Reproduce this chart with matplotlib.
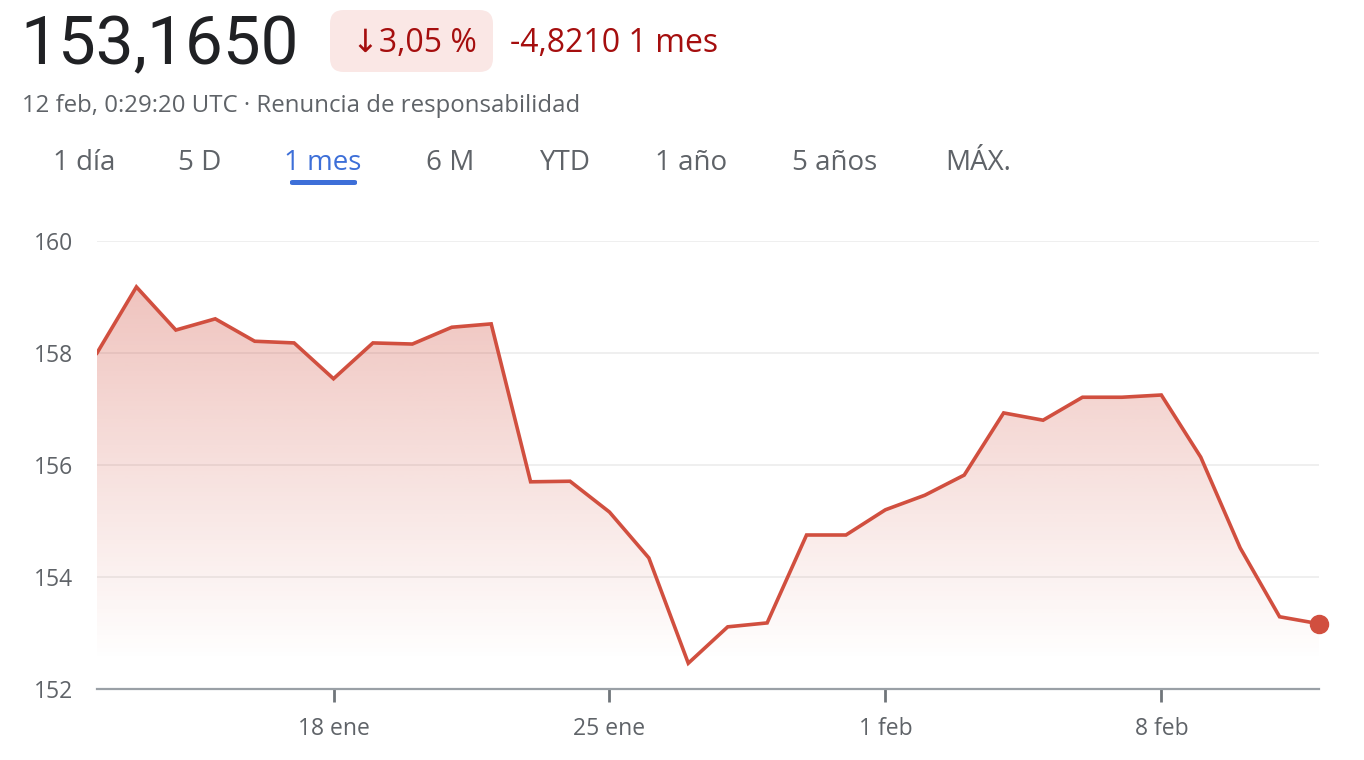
import matplotlib
matplotlib.use("Agg")
import matplotlib.pyplot as plt
import numpy as np
from matplotlib.patches import FancyBboxPatch, PathPatch

plt.rcParams['font.family'] = ['Open Sans', 'DejaVu Sans']

# ---- data ----
day_index = list(range(32))  # 12 ene .. 12 feb
prices = [158.00, 159.18, 158.41, 158.61, 158.21, 158.18, 157.54, 158.18,
          158.16, 158.46, 158.52, 155.70, 155.71, 155.16, 154.34, 152.46,
          153.11, 153.18, 154.75, 154.75, 155.20, 155.46, 155.82, 156.93,
          156.80, 157.21, 157.21, 157.25, 156.14, 154.52, 153.29, 153.165]
xtick_pos = [6, 13, 20, 27]
xtick_labels = ["18 ene", "25 ene", "1 feb", "8 feb"]
ytick_vals = [152, 154, 156, 158, 160]
ytick_labels = ["152", "154", "156", "158", "160"]
tabs = ["1 día", "5 D", "1 mes", "6 M", "YTD", "1 año", "5 años", "MÁX."]
tab_x = [84, 200, 323, 450, 565, 691, 835, 978]
price_text = "153,1650"
pct_text = "\u21933,05 %"
change_text = "-4,8210 1 mes"
sub_text = "12 feb, 0:29:20 UTC \u00b7 Renuncia de responsabilidad"

RED = "#d14f3f"
DARKRED = "#a50e0e"
GRAY = "#5f6368"
W, H = 1364, 760

fig = plt.figure(figsize=(W / 100, H / 100), dpi=100)

def fx(px):
    return px / W

def fy(py):
    return 1 - py / H

# header
fig.text(fx(20), fy(46), price_text, fontsize=48.5, color="#202124", va="center", ha="left",
         family=['Roboto', 'DejaVu Sans'])
badge = FancyBboxPatch((fx(330), fy(72)), fx(493) - fx(330), fy(10) - fy(72),
                       boxstyle="round,pad=0,rounding_size=0.01", transform=fig.transFigure,
                       facecolor="#fae7e5", edgecolor="none", mutation_aspect=W / H)
fig.patches.append(badge)
fig.text(fx(414), fy(43), pct_text, fontsize=23, color=DARKRED, va="center", ha="center",
         fontweight="medium")
fig.text(fx(510), fy(43), change_text, fontsize=23, color=DARKRED, va="center", ha="left",
         fontweight="medium")
fig.text(fx(22), fy(106), sub_text, fontsize=17.3, color=GRAY, va="center", ha="left")

for t, x in zip(tabs, tab_x):
    c = "#3d6fd8" if t == "1 mes" else GRAY
    fig.text(fx(x), fy(163), t, fontsize=20, color=c, va="center", ha="center")
ul = FancyBboxPatch((fx(290), fy(185)), fx(357) - fx(290), fy(180) - fy(185),
                    boxstyle="round,pad=0,rounding_size=0.002", transform=fig.transFigure,
                    facecolor="#3d6fd8", edgecolor="none")
fig.patches.append(ul)

# chart
ax = fig.add_axes([fx(97), fy(689), fx(1319) - fx(97), fy(241) - fy(689)])
ax.set_xlim(0, 31)
ax.set_ylim(152, 160)
for s in ["top", "right", "left"]:
    ax.spines[s].set_visible(False)
ax.spines["bottom"].set_color("#9aa0a6")
ax.spines["bottom"].set_linewidth(1.6)

for yv in ytick_vals[1:]:
    ax.axhline(yv, color="#ececec", lw=1.2, zorder=0)

# gradient fill
poly = ax.fill_between(day_index, prices, 152, facecolor="none", edgecolor="none")
yy = np.linspace(152, 160, 400)
alpha = np.clip((yy - 152.5) / (159.2 - 152.5), 0, 1) * 0.34
img = np.ones((400, 2, 4))
img[:, :, 0] = 209 / 255
img[:, :, 1] = 79 / 255
img[:, :, 2] = 63 / 255
img[:, :, 3] = alpha[:, None]
im = ax.imshow(img, extent=[0, 31, 152, 160], origin="lower", aspect="auto", zorder=1)
clip = PathPatch(poly.get_paths()[0], transform=ax.transData, facecolor="none", edgecolor="none")
ax.add_patch(clip)
im.set_clip_path(clip)

ax.plot(day_index, prices, color=RED, lw=2.6, zorder=3, solid_joinstyle="miter")
ax.plot([day_index[-1]], [prices[-1]], "o", color=RED, ms=13, zorder=4, clip_on=False)

ax.set_xticks(xtick_pos)
ax.set_xticklabels(xtick_labels, fontsize=16.5, color=GRAY)
ax.tick_params(axis="x", length=9, width=2, color="#70757a", pad=11, direction="out")
ax.set_yticks(ytick_vals)
ax.set_yticklabels(ytick_labels, fontsize=16.5, color=GRAY)
ax.tick_params(axis="y", length=0, pad=17)

fig.savefig("out.png", dpi=100, facecolor="white")
